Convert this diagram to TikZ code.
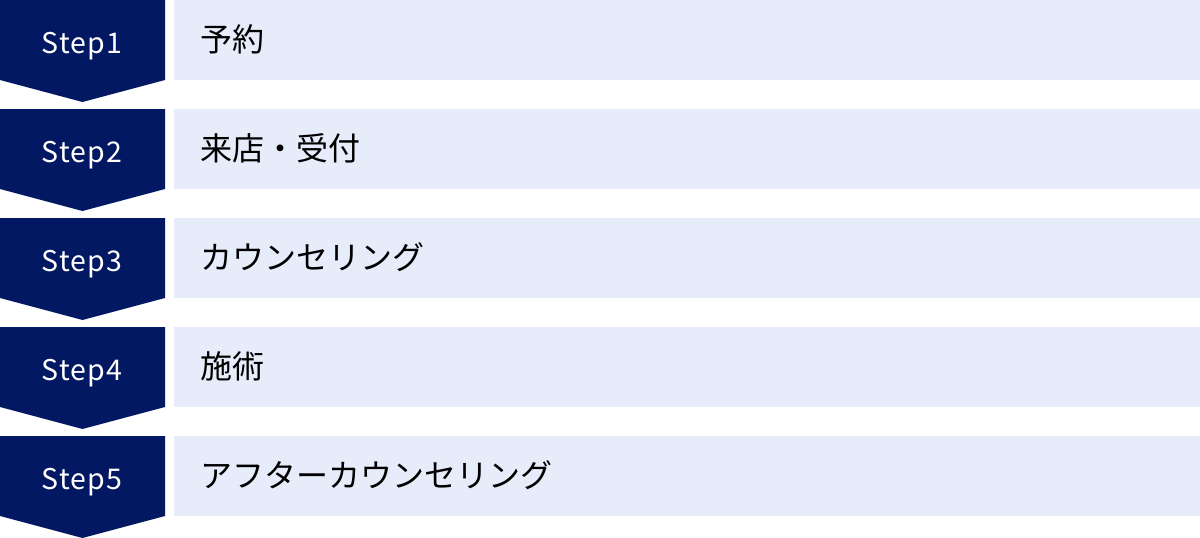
\documentclass[tikz,border=0pt]{standalone}
\usepackage{fontspec}
\setmainfont{Noto Sans CJK JP}
\newfontfamily\stepfont[LetterSpace=4]{Noto Sans CJK JP}
\definecolor{navy}{HTML}{031862}
\definecolor{pale}{HTML}{E6ECF9}
\tikzset{
  stepshape/.style={fill=navy, draw=none},
  bar/.style={fill=pale, draw=none},
  steplabel/.style={text=white, font=\stepfont\fontsize{28.5}{32}\selectfont, inner sep=0pt, anchor=base},
  itemlabel/.style={text=black, font=\fontsize{32}{38}\selectfont, anchor=west, inner sep=0pt},
}
\begin{document}
\begin{tikzpicture}[x=1pt,y=-1pt]
\useasboundingbox (0,0) rectangle (1200,538);
\foreach \i/\t [count=\n] in {0/予約,109/来店・受付,218/カウンセリング,327/施術,436/アフターカウンセリング}{
  \fill[stepshape] (0,\i) -- (165,\i) -- (165,\i+80) -- (82.5,\i+102) -- (0,\i+80) -- cycle;
  \fill[bar] (174,\i) rectangle (1200,\i+80);
  \node[steplabel] (s\n) at (82,\i+53) {Step\n};
  \node[itemlabel] (t\n) at (200,\i+39) {\t};
}
\end{tikzpicture}
\end{document}
